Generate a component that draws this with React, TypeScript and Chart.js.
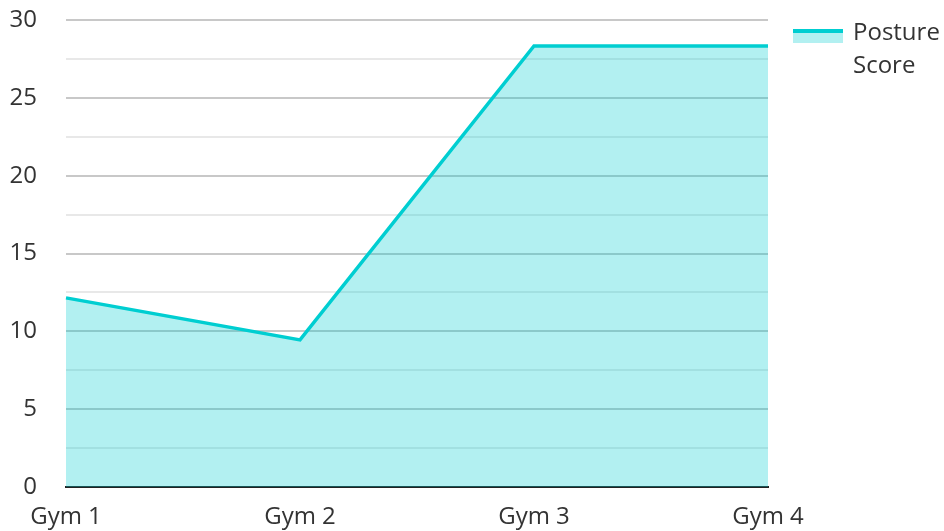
import React, { useEffect, useRef } from "react";
import { Chart, registerables } from "chart.js";

Chart.register(...registerables);

const categories = ["Gym 1", "Gym 2", "Gym 3", "Gym 4"];
const postureScore = [12.15, 9.45, 28.33, 28.33];
const seriesLabel = ["Posture", "Score"];
const yMax = 30;
const yStep = 2.5;

const LINE = "#00CED1";
const FILL = "rgba(0,206,209,0.3)";
const TEXT = "#333333";
const FONT = "'Open Sans', 'Noto Sans', sans-serif";

const legendPlugin = {
  id: "customLegend",
  afterDraw(chart: any) {
    const ctx = chart.ctx;
    const ds = chart.data.datasets[0];
    const x = chart.chartArea.right + 25;
    const y = chart.chartArea.top + 9;
    ctx.save();
    ctx.fillStyle = ds.backgroundColor;
    ctx.fillRect(x, y + 2, 50, 12);
    ctx.fillStyle = ds.borderColor;
    ctx.fillRect(x, y, 50, 4);
    ctx.fillStyle = TEXT;
    ctx.font = `24px ${FONT}`;
    ctx.textBaseline = "alphabetic";
    ctx.textAlign = "left";
    const lines = ds.label as string[];
    lines.forEach((t, i) => ctx.fillText(t, x + 60, y + 11 + i * 33));
    ctx.restore();
  },
};

export default function App() {
  const ref = useRef<HTMLCanvasElement>(null);
  useEffect(() => {
    if (!ref.current) return;
    const chart = new Chart(ref.current, {
      type: "line",
      data: {
        labels: categories,
        datasets: [
          {
            label: seriesLabel as any,
            data: postureScore,
            borderColor: LINE,
            backgroundColor: FILL,
            borderWidth: 3.5,
            fill: "origin",
            pointRadius: 0,
            tension: 0,
          },
        ],
      },
      options: {
        animation: false,
        responsive: true,
        maintainAspectRatio: false,
        layout: { padding: { top: 20, right: 176, left: 0, bottom: 0 } },
        plugins: { legend: { display: false }, tooltip: { enabled: false } },
        scales: {
          x: {
            offset: false,
            grid: { display: false, drawTicks: false },
            border: { display: true, color: "#222222", width: 2 },
            ticks: { color: TEXT, font: { family: FONT, size: 24 }, padding: 16, maxRotation: 0 },
            afterFit: (s: any) => { s.height = 44; s.paddingLeft = 0; s.paddingRight = 0; },
          },
          y: {
            min: 0,
            max: yMax,
            grid: {
              drawTicks: false,
              color: (c: any) => (c.tick && c.tick.value % 5 === 0 ? "#c8c8c8" : "#e8e8e8"),
              lineWidth: 2,
            },
            border: { display: false },
            ticks: {
              stepSize: yStep,
              color: TEXT,
              font: { family: FONT, size: 24 },
              padding: 29,
              autoSkip: false,
              callback: (v: any) => (Number(v) % 5 === 0 ? String(v) : ""),
            },
            afterFit: (s: any) => { s.width = 66; s.paddingTop = 0; s.paddingBottom = 0; },
          },
        },
      },
      plugins: [legendPlugin],
    });
    return () => chart.destroy();
  }, []);
  return (
    <div style={{ position: "absolute", left: 0, top: 0, width: 944, height: 531 }}>
      <canvas ref={ref} />
    </div>
  );
}
